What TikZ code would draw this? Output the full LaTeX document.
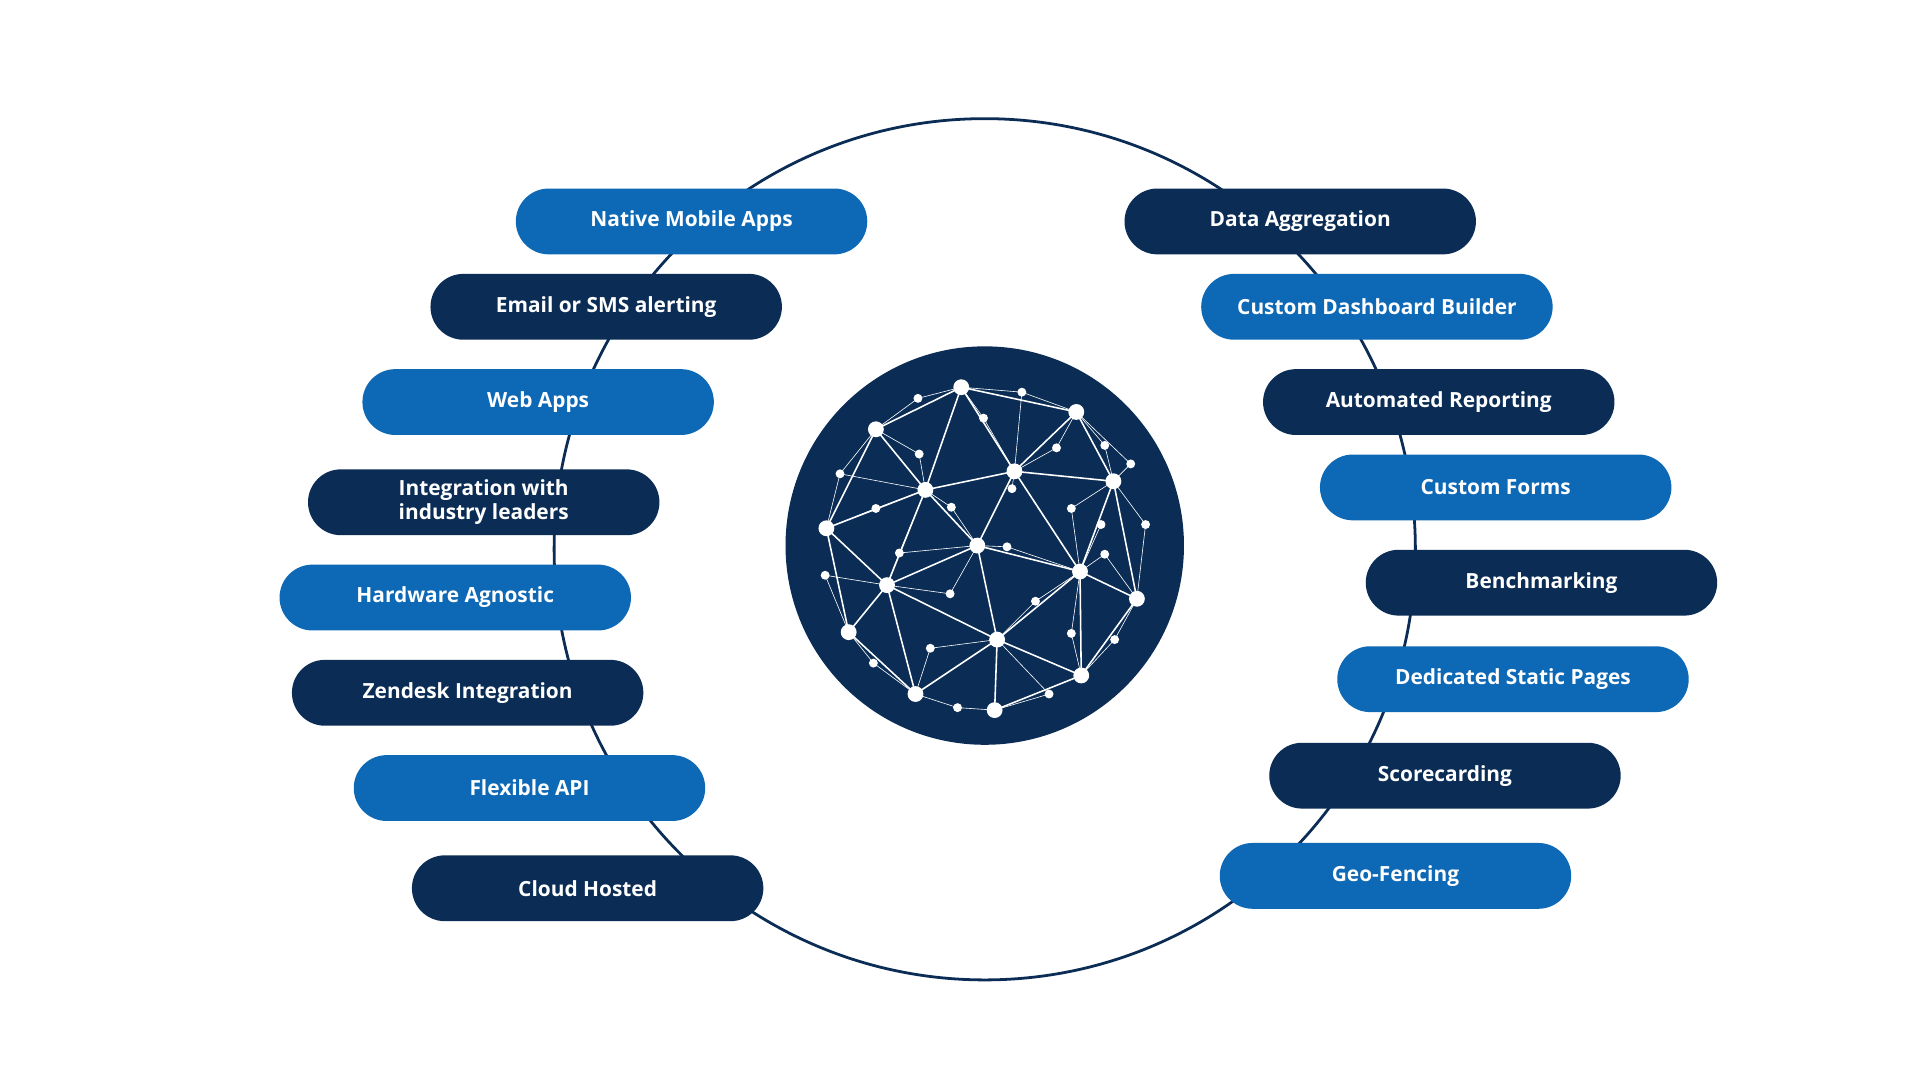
\documentclass[tikz,border=0pt]{standalone}
\usepackage{fontspec}
\setmainfont{Open Sans}
\definecolor{navy}{HTML}{0B2D55}
\definecolor{lblue}{HTML}{0D68B5}
\begin{document}
\begin{tikzpicture}[x=0.025cm,y=-0.025cm,
  pill/.style={minimum width=7.1cm,minimum height=1.33cm,rounded corners=0.665cm,text=white,font=\bfseries\fontsize{12}{14}\selectfont,align=center,inner sep=0pt},
  pd/.style={pill,fill=navy},
  pl/.style={pill,fill=lblue},
  thk/.style={white,line width=0.9pt},
  thn/.style={white,line width=0.35pt}]
\useasboundingbox (0,0) rectangle (1552,873);
\fill[white] (0,0) rectangle (1552,873);
\draw[navy,line width=1.6pt] (796,444) circle[radius=8.7cm];
\node[pl] (l1) at (559,179) {Native Mobile Apps};
\node[pd] (l2) at (490,248) {Email or SMS alerting};
\node[pl] (l3) at (435,325) {Web Apps};
\node[pd] (l4) at (391,406) {Integration with\\industry leaders};
\node[pl] (l5) at (368,483) {Hardware Agnostic};
\node[pd] (l6) at (378,560) {Zendesk Integration};
\node[pl] (l7) at (428,637) {Flexible API};
\node[pd] (l8) at (475,718) {Cloud Hosted};
\node[pd] (r1) at (1051,179) {Data Aggregation};
\node[pl] (r2) at (1113,248) {Custom Dashboard Builder};
\node[pd] (r3) at (1163,325) {Automated Reporting};
\node[pl] (r4) at (1209,394) {Custom Forms};
\node[pd] (r5) at (1246,471) {Benchmarking};
\node[pl] (r6) at (1223,549) {Dedicated Static Pages};
\node[pd] (r7) at (1168,627) {Scorecarding};
\node[pl] (r8) at (1128,708) {Geo-Fencing};
\node[circle,fill=navy,minimum size=8.05cm,inner sep=0pt] (globe) at (796,441) {};
\foreach \n/\x/\y in {1/777/313,2/826/317,3/742/322,4/708/347,5/870/333,6/795/338,7/854/362,8/893/360,9/900/389,10/914/375,11/679/383,12/748/396,13/820/381,14/743/367,15/769/410,16/708/411,17/866/411,18/818/395,19/668/427,20/727/447,21/790/441,22/814/442,23/873/462,24/893/448,25/926/424,26/667/465,27/717/473,28/768/480,29/837/486,30/919/484,31/686/511,32/752/524,33/806/517,34/866/512,35/901/517,36/706/536,37/740/561,38/774/572,39/804/574,40/848/561,41/874/546,42/890/424}
  \coordinate (p\n) at (\x,\y);
\foreach \a/\b in {1/4,1/5,4/12,1/12,12/13,5/13,5/9,9/30,13/21,12/21,4/19,19/12,19/27,27/21,21/23,23/30,23/13,9/23,27/33,21/33,33/23,23/41,33/41,27/31,31/37,37/33,33/39,39/41,30/41,27/37,12/27,1/13,19/31,13/9}
  \draw[thk] (p\a) -- (p\b);
\foreach \a/\b in {1/2,2/5,3/4,3/1,4/11,11/19,14/12,6/13,7/13,8/9,10/9,15/21,16/12,17/23,18/13,22/21,24/23,25/30,26/27,28/21,29/33,32/33,34/23,35/30,36/31,38/37,40/33,42/23,2/13,6/1,11/12,26/31,28/27,29/23,34/41,40/39,38/39,32/37,17/9,24/30,25/9,14/4,15/12,16/19,22/23,35/41,36/37,7/5,8/5,10/5,20/27,20/21,20/12}
  \draw[thn] (p\a) -- (p\b);
\foreach \n in {2,3,6,7,8,10,11,14,15,16,17,18,20,22,24,25,26,28,29,32,34,35,36,38,40,42}
  \fill[white] (p\n) circle[radius=0.09cm];
\foreach \n in {1,4,5,9,12,13,19,21,23,27,30,31,33,37,39,41}
  \fill[white] (p\n) circle[radius=0.16cm];
\end{tikzpicture}
\end{document}
